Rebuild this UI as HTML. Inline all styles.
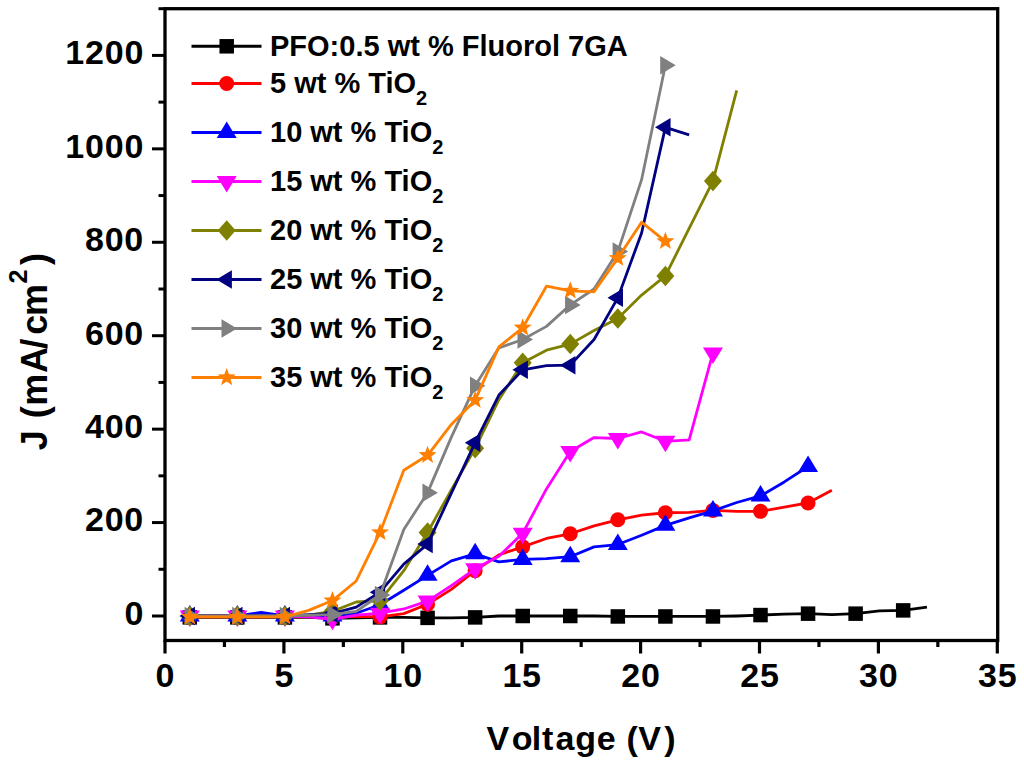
<!DOCTYPE html>
<html><head><meta charset="utf-8"><style>
html,body{margin:0;padding:0;background:#fff;}
svg{display:block;}
text{font-family:"Liberation Sans",sans-serif;font-weight:bold;fill:#000;}
</style></head><body>
<svg width="1024" height="762" viewBox="0 0 1024 762">
<rect width="1024" height="762" fill="#fff"/>
<polyline points="189.78,617.40 213.56,617.40 237.34,617.40 261.12,617.40 284.90,617.40 308.68,617.40 332.46,618.34 356.24,617.87 380.02,617.40 403.80,617.40 427.58,617.87 451.36,617.87 475.14,617.40 498.92,616.00 522.70,616.00 546.48,616.00 570.26,616.00 594.04,616.00 617.82,616.47 641.60,616.47 665.38,616.47 689.16,616.47 712.94,616.47 736.72,616.00 760.50,615.07 784.28,614.13 808.06,613.66 831.84,614.60 855.62,613.66 879.40,610.86 903.18,610.39 926.96,607.12" fill="none" stroke="#000000" stroke-width="2.8" stroke-linejoin="round" stroke-linecap="butt"/>
<rect x="182.53" y="610.15" width="14.5" height="14.5" fill="#000000"/>
<rect x="230.09" y="610.15" width="14.5" height="14.5" fill="#000000"/>
<rect x="277.65" y="610.15" width="14.5" height="14.5" fill="#000000"/>
<rect x="325.21" y="611.09" width="14.5" height="14.5" fill="#000000"/>
<rect x="372.77" y="610.15" width="14.5" height="14.5" fill="#000000"/>
<rect x="420.33" y="610.62" width="14.5" height="14.5" fill="#000000"/>
<rect x="467.89" y="610.15" width="14.5" height="14.5" fill="#000000"/>
<rect x="515.45" y="608.75" width="14.5" height="14.5" fill="#000000"/>
<rect x="563.01" y="608.75" width="14.5" height="14.5" fill="#000000"/>
<rect x="610.57" y="609.22" width="14.5" height="14.5" fill="#000000"/>
<rect x="658.13" y="609.22" width="14.5" height="14.5" fill="#000000"/>
<rect x="705.69" y="609.22" width="14.5" height="14.5" fill="#000000"/>
<rect x="753.25" y="607.82" width="14.5" height="14.5" fill="#000000"/>
<rect x="800.81" y="606.41" width="14.5" height="14.5" fill="#000000"/>
<rect x="848.37" y="606.41" width="14.5" height="14.5" fill="#000000"/>
<rect x="895.93" y="603.14" width="14.5" height="14.5" fill="#000000"/>
<polyline points="189.78,616.93 213.56,616.93 237.34,616.93 261.12,616.93 284.90,616.93 308.68,616.93 332.46,616.93 356.24,616.47 380.02,616.93 403.80,613.66 427.58,604.32 451.36,589.37 475.14,570.69 498.92,554.80 522.70,546.86 546.48,538.45 570.26,533.78 594.04,525.84 617.82,519.77 641.60,515.10 665.38,512.76 689.16,512.29 712.94,510.42 736.72,511.36 760.50,511.36 784.28,507.15 808.06,502.95 831.84,490.34" fill="none" stroke="#FF0000" stroke-width="2.8" stroke-linejoin="round" stroke-linecap="butt"/>
<circle cx="189.78" cy="616.93" r="7.5" fill="#FF0000"/>
<circle cx="237.34" cy="616.93" r="7.5" fill="#FF0000"/>
<circle cx="284.90" cy="616.93" r="7.5" fill="#FF0000"/>
<circle cx="332.46" cy="616.93" r="7.5" fill="#FF0000"/>
<circle cx="380.02" cy="616.93" r="7.5" fill="#FF0000"/>
<circle cx="427.58" cy="604.32" r="7.5" fill="#FF0000"/>
<circle cx="475.14" cy="570.69" r="7.5" fill="#FF0000"/>
<circle cx="522.70" cy="546.86" r="7.5" fill="#FF0000"/>
<circle cx="570.26" cy="533.78" r="7.5" fill="#FF0000"/>
<circle cx="617.82" cy="519.77" r="7.5" fill="#FF0000"/>
<circle cx="665.38" cy="512.76" r="7.5" fill="#FF0000"/>
<circle cx="712.94" cy="510.42" r="7.5" fill="#FF0000"/>
<circle cx="760.50" cy="511.36" r="7.5" fill="#FF0000"/>
<circle cx="808.06" cy="502.95" r="7.5" fill="#FF0000"/>
<polyline points="189.78,616.00 213.56,616.00 237.34,616.00 261.12,612.26 284.90,616.00 308.68,616.00 332.46,616.00 356.24,613.20 380.02,604.79 403.80,590.31 427.58,575.36 451.36,560.88 475.14,553.87 498.92,561.81 522.70,559.47 546.48,558.54 570.26,556.67 594.04,546.86 617.82,544.53 641.60,535.18 665.38,525.37 689.16,517.90 712.94,510.89 736.72,502.48 760.50,495.94 784.28,481.93 808.06,466.51" fill="none" stroke="#0000FF" stroke-width="2.8" stroke-linejoin="round" stroke-linecap="butt"/>
<polygon points="189.78,605.00 199.78,621.50 179.78,621.50" fill="#0000FF"/>
<polygon points="237.34,605.00 247.34,621.50 227.34,621.50" fill="#0000FF"/>
<polygon points="284.90,605.00 294.90,621.50 274.90,621.50" fill="#0000FF"/>
<polygon points="332.46,605.00 342.46,621.50 322.46,621.50" fill="#0000FF"/>
<polygon points="380.02,593.79 390.02,610.29 370.02,610.29" fill="#0000FF"/>
<polygon points="427.58,564.36 437.58,580.86 417.58,580.86" fill="#0000FF"/>
<polygon points="475.14,542.87 485.14,559.37 465.14,559.37" fill="#0000FF"/>
<polygon points="522.70,548.47 532.70,564.97 512.70,564.97" fill="#0000FF"/>
<polygon points="570.26,545.67 580.26,562.17 560.26,562.17" fill="#0000FF"/>
<polygon points="617.82,533.53 627.82,550.03 607.82,550.03" fill="#0000FF"/>
<polygon points="665.38,514.37 675.38,530.87 655.38,530.87" fill="#0000FF"/>
<polygon points="712.94,499.89 722.94,516.39 702.94,516.39" fill="#0000FF"/>
<polygon points="760.50,484.94 770.50,501.44 750.50,501.44" fill="#0000FF"/>
<polygon points="808.06,455.51 818.06,472.01 798.06,472.01" fill="#0000FF"/>
<polyline points="189.78,616.00 213.56,616.00 237.34,616.00 261.12,616.00 284.90,616.00 308.68,616.93 332.46,619.27 356.24,615.07 380.02,613.20 403.80,608.99 427.58,601.05 451.36,585.64 475.14,568.82 498.92,556.20 522.70,533.31 546.48,488.94 570.26,451.56 594.04,437.55 617.82,438.48 641.60,431.94 665.38,441.29 689.16,439.88 712.94,352.99" fill="none" stroke="#FF00FF" stroke-width="2.8" stroke-linejoin="round" stroke-linecap="butt"/>
<polygon points="189.78,627.00 199.78,610.50 179.78,610.50" fill="#FF00FF"/>
<polygon points="237.34,627.00 247.34,610.50 227.34,610.50" fill="#FF00FF"/>
<polygon points="284.90,627.00 294.90,610.50 274.90,610.50" fill="#FF00FF"/>
<polygon points="332.46,630.27 342.46,613.77 322.46,613.77" fill="#FF00FF"/>
<polygon points="380.02,624.20 390.02,607.70 370.02,607.70" fill="#FF00FF"/>
<polygon points="427.58,612.05 437.58,595.55 417.58,595.55" fill="#FF00FF"/>
<polygon points="475.14,579.82 485.14,563.32 465.14,563.32" fill="#FF00FF"/>
<polygon points="522.70,544.31 532.70,527.81 512.70,527.81" fill="#FF00FF"/>
<polygon points="570.26,462.56 580.26,446.06 560.26,446.06" fill="#FF00FF"/>
<polygon points="617.82,449.48 627.82,432.98 607.82,432.98" fill="#FF00FF"/>
<polygon points="665.38,452.29 675.38,435.79 655.38,435.79" fill="#FF00FF"/>
<polygon points="712.94,363.99 722.94,347.49 702.94,347.49" fill="#FF00FF"/>
<polyline points="189.78,616.00 213.56,616.00 237.34,616.00 261.12,616.00 284.90,616.00 308.68,615.07 332.46,611.33 356.24,601.99 380.02,600.58 403.80,570.69 427.58,532.38 451.36,489.87 475.14,448.29 498.92,399.71 522.70,362.80 546.48,350.19 570.26,344.12 594.04,330.57 617.82,318.43 641.60,295.07 665.38,275.91 689.16,228.27 712.94,181.08 736.72,90.46" fill="none" stroke="#808000" stroke-width="2.8" stroke-linejoin="round" stroke-linecap="butt"/>
<polygon points="189.78,605.75 198.78,616.00 189.78,626.25 180.78,616.00" fill="#808000"/>
<polygon points="237.34,605.75 246.34,616.00 237.34,626.25 228.34,616.00" fill="#808000"/>
<polygon points="284.90,605.75 293.90,616.00 284.90,626.25 275.90,616.00" fill="#808000"/>
<polygon points="332.46,601.08 341.46,611.33 332.46,621.58 323.46,611.33" fill="#808000"/>
<polygon points="380.02,590.33 389.02,600.58 380.02,610.83 371.02,600.58" fill="#808000"/>
<polygon points="427.58,522.13 436.58,532.38 427.58,542.63 418.58,532.38" fill="#808000"/>
<polygon points="475.14,438.04 484.14,448.29 475.14,458.54 466.14,448.29" fill="#808000"/>
<polygon points="522.70,352.55 531.70,362.80 522.70,373.05 513.70,362.80" fill="#808000"/>
<polygon points="570.26,333.87 579.26,344.12 570.26,354.37 561.26,344.12" fill="#808000"/>
<polygon points="617.82,308.18 626.82,318.43 617.82,328.68 608.82,318.43" fill="#808000"/>
<polygon points="665.38,265.66 674.38,275.91 665.38,286.16 656.38,275.91" fill="#808000"/>
<polygon points="712.94,170.83 721.94,181.08 712.94,191.33 703.94,181.08" fill="#808000"/>
<polyline points="189.78,616.00 213.56,616.00 237.34,616.00 261.12,616.00 284.90,616.00 308.68,614.60 332.46,613.66 356.24,607.12 380.02,592.18 403.80,564.15 427.58,544.06 451.36,493.14 475.14,442.69 498.92,395.04 522.70,369.81 546.48,365.61 570.26,365.14 594.04,339.45 617.82,297.87 641.60,232.94 665.38,127.36 689.16,134.84" fill="none" stroke="#000080" stroke-width="2.8" stroke-linejoin="round" stroke-linecap="butt"/>
<polygon points="179.45,616.00 194.95,606.75 194.95,625.25" fill="#000080"/>
<polygon points="227.01,616.00 242.51,606.75 242.51,625.25" fill="#000080"/>
<polygon points="274.57,616.00 290.07,606.75 290.07,625.25" fill="#000080"/>
<polygon points="322.13,613.66 337.63,604.41 337.63,622.91" fill="#000080"/>
<polygon points="369.69,592.18 385.19,582.93 385.19,601.43" fill="#000080"/>
<polygon points="417.25,544.06 432.75,534.81 432.75,553.31" fill="#000080"/>
<polygon points="464.81,442.69 480.31,433.44 480.31,451.94" fill="#000080"/>
<polygon points="512.37,369.81 527.87,360.56 527.87,379.06" fill="#000080"/>
<polygon points="559.93,365.14 575.43,355.89 575.43,374.39" fill="#000080"/>
<polygon points="607.49,297.87 622.99,288.62 622.99,307.12" fill="#000080"/>
<polygon points="655.05,127.36 670.55,118.11 670.55,136.61" fill="#000080"/>
<polyline points="189.78,616.00 213.56,616.00 237.34,616.00 261.12,616.00 284.90,616.00 308.68,615.07 332.46,614.60 356.24,611.33 380.02,594.98 403.80,529.58 427.58,492.67 451.36,437.08 475.14,385.70 498.92,347.86 522.70,339.45 546.48,326.37 570.26,304.88 594.04,289.00 617.82,251.62 641.60,179.68 665.38,65.23" fill="none" stroke="#808080" stroke-width="2.8" stroke-linejoin="round" stroke-linecap="butt"/>
<polygon points="200.11,616.00 184.61,606.75 184.61,625.25" fill="#808080"/>
<polygon points="247.67,616.00 232.17,606.75 232.17,625.25" fill="#808080"/>
<polygon points="295.23,616.00 279.73,606.75 279.73,625.25" fill="#808080"/>
<polygon points="342.79,614.60 327.29,605.35 327.29,623.85" fill="#808080"/>
<polygon points="390.35,594.98 374.85,585.73 374.85,604.23" fill="#808080"/>
<polygon points="437.91,492.67 422.41,483.42 422.41,501.92" fill="#808080"/>
<polygon points="485.47,385.70 469.97,376.45 469.97,394.95" fill="#808080"/>
<polygon points="533.03,339.45 517.53,330.20 517.53,348.70" fill="#808080"/>
<polygon points="580.59,304.88 565.09,295.63 565.09,314.13" fill="#808080"/>
<polygon points="628.15,251.62 612.65,242.37 612.65,260.87" fill="#808080"/>
<polygon points="675.71,65.23 660.21,55.98 660.21,74.48" fill="#808080"/>
<polyline points="189.78,616.93 213.56,616.93 237.34,616.93 261.12,616.93 284.90,616.93 308.68,610.39 332.46,600.58 356.24,580.96 380.02,532.38 403.80,470.25 427.58,455.30 451.36,424.47 475.14,400.18 498.92,346.92 522.70,327.77 546.48,286.19 570.26,290.86 594.04,291.80 617.82,258.16 641.60,222.19 665.38,241.35" fill="none" stroke="#FF8000" stroke-width="2.8" stroke-linejoin="round" stroke-linecap="butt"/>
<polygon points="189.78,607.43 192.13,613.70 198.82,614.00 193.58,618.17 195.36,624.62 189.78,620.93 184.20,624.62 185.98,618.17 180.74,614.00 187.43,613.70" fill="#FF8000"/>
<polygon points="237.34,607.43 239.69,613.70 246.38,614.00 241.14,618.17 242.92,624.62 237.34,620.93 231.76,624.62 233.54,618.17 228.30,614.00 234.99,613.70" fill="#FF8000"/>
<polygon points="284.90,607.43 287.25,613.70 293.94,614.00 288.70,618.17 290.48,624.62 284.90,620.93 279.32,624.62 281.10,618.17 275.86,614.00 282.55,613.70" fill="#FF8000"/>
<polygon points="332.46,591.08 334.81,597.35 341.50,597.65 336.26,601.82 338.04,608.27 332.46,604.58 326.88,608.27 328.66,601.82 323.42,597.65 330.11,597.35" fill="#FF8000"/>
<polygon points="380.02,522.88 382.37,529.14 389.06,529.44 383.82,533.62 385.60,540.07 380.02,536.38 374.44,540.07 376.22,533.62 370.98,529.44 377.67,529.14" fill="#FF8000"/>
<polygon points="427.58,445.80 429.93,452.06 436.62,452.36 431.38,456.54 433.16,462.99 427.58,459.30 422.00,462.99 423.78,456.54 418.54,452.36 425.23,452.06" fill="#FF8000"/>
<polygon points="475.14,390.68 477.49,396.94 484.18,397.24 478.94,401.41 480.72,407.86 475.14,404.18 469.56,407.86 471.34,401.41 466.10,397.24 472.79,396.94" fill="#FF8000"/>
<polygon points="522.70,318.27 525.05,324.53 531.74,324.83 526.50,329.00 528.28,335.45 522.70,331.77 517.12,335.45 518.90,329.00 513.66,324.83 520.35,324.53" fill="#FF8000"/>
<polygon points="570.26,281.36 572.61,287.63 579.30,287.93 574.06,292.10 575.84,298.55 570.26,294.86 564.68,298.55 566.46,292.10 561.22,287.93 567.91,287.63" fill="#FF8000"/>
<polygon points="617.82,248.66 620.17,254.93 626.86,255.23 621.62,259.40 623.40,265.85 617.82,262.16 612.24,265.85 614.02,259.40 608.78,255.23 615.47,254.93" fill="#FF8000"/>
<polygon points="665.38,231.85 667.73,238.11 674.42,238.41 669.18,242.58 670.96,249.03 665.38,245.35 659.80,249.03 661.58,242.58 656.34,238.41 663.03,238.11" fill="#FF8000"/>
<rect x="165" y="8.7" width="832.7" height="631.8" fill="none" stroke="#000" stroke-width="3.3"/>
<line x1="152" y1="616.00" x2="165" y2="616.00" stroke="#000" stroke-width="3"/>
<text x="144.10" y="624.90" font-size="34" letter-spacing="0.8" text-anchor="end">0</text>
<line x1="158.5" y1="569.28" x2="165" y2="569.28" stroke="#000" stroke-width="3"/>
<line x1="152" y1="522.57" x2="165" y2="522.57" stroke="#000" stroke-width="3"/>
<text x="144.10" y="531.47" font-size="34" letter-spacing="0.8" text-anchor="end">200</text>
<line x1="158.5" y1="475.86" x2="165" y2="475.86" stroke="#000" stroke-width="3"/>
<line x1="152" y1="429.14" x2="165" y2="429.14" stroke="#000" stroke-width="3"/>
<text x="144.10" y="438.04" font-size="34" letter-spacing="0.8" text-anchor="end">400</text>
<line x1="158.5" y1="382.42" x2="165" y2="382.42" stroke="#000" stroke-width="3"/>
<line x1="152" y1="335.71" x2="165" y2="335.71" stroke="#000" stroke-width="3"/>
<text x="144.10" y="344.61" font-size="34" letter-spacing="0.8" text-anchor="end">600</text>
<line x1="158.5" y1="289.00" x2="165" y2="289.00" stroke="#000" stroke-width="3"/>
<line x1="152" y1="242.28" x2="165" y2="242.28" stroke="#000" stroke-width="3"/>
<text x="144.10" y="251.18" font-size="34" letter-spacing="0.8" text-anchor="end">800</text>
<line x1="158.5" y1="195.56" x2="165" y2="195.56" stroke="#000" stroke-width="3"/>
<line x1="152" y1="148.85" x2="165" y2="148.85" stroke="#000" stroke-width="3"/>
<text x="144.10" y="157.75" font-size="34" letter-spacing="0.8" text-anchor="end">1000</text>
<line x1="158.5" y1="102.13" x2="165" y2="102.13" stroke="#000" stroke-width="3"/>
<line x1="152" y1="55.42" x2="165" y2="55.42" stroke="#000" stroke-width="3"/>
<text x="144.10" y="64.32" font-size="34" letter-spacing="0.8" text-anchor="end">1200</text>
<line x1="158.5" y1="8.71" x2="165" y2="8.71" stroke="#000" stroke-width="3"/>
<line x1="165.00" y1="640.5" x2="165.00" y2="653.5" stroke="#000" stroke-width="3.2"/>
<text x="165.40" y="686.6" font-size="34" letter-spacing="0.8" text-anchor="middle">0</text>
<line x1="224.45" y1="640.5" x2="224.45" y2="647" stroke="#000" stroke-width="3.2"/>
<line x1="283.90" y1="640.5" x2="283.90" y2="653.5" stroke="#000" stroke-width="3.2"/>
<text x="284.30" y="686.6" font-size="34" letter-spacing="0.8" text-anchor="middle">5</text>
<line x1="343.35" y1="640.5" x2="343.35" y2="647" stroke="#000" stroke-width="3.2"/>
<line x1="402.80" y1="640.5" x2="402.80" y2="653.5" stroke="#000" stroke-width="3.2"/>
<text x="403.20" y="686.6" font-size="34" letter-spacing="0.8" text-anchor="middle">10</text>
<line x1="462.25" y1="640.5" x2="462.25" y2="647" stroke="#000" stroke-width="3.2"/>
<line x1="521.70" y1="640.5" x2="521.70" y2="653.5" stroke="#000" stroke-width="3.2"/>
<text x="522.10" y="686.6" font-size="34" letter-spacing="0.8" text-anchor="middle">15</text>
<line x1="581.15" y1="640.5" x2="581.15" y2="647" stroke="#000" stroke-width="3.2"/>
<line x1="640.60" y1="640.5" x2="640.60" y2="653.5" stroke="#000" stroke-width="3.2"/>
<text x="641.00" y="686.6" font-size="34" letter-spacing="0.8" text-anchor="middle">20</text>
<line x1="700.05" y1="640.5" x2="700.05" y2="647" stroke="#000" stroke-width="3.2"/>
<line x1="759.50" y1="640.5" x2="759.50" y2="653.5" stroke="#000" stroke-width="3.2"/>
<text x="759.90" y="686.6" font-size="34" letter-spacing="0.8" text-anchor="middle">25</text>
<line x1="818.95" y1="640.5" x2="818.95" y2="647" stroke="#000" stroke-width="3.2"/>
<line x1="878.40" y1="640.5" x2="878.40" y2="653.5" stroke="#000" stroke-width="3.2"/>
<text x="878.80" y="686.6" font-size="34" letter-spacing="0.8" text-anchor="middle">30</text>
<line x1="937.85" y1="640.5" x2="937.85" y2="647" stroke="#000" stroke-width="3.2"/>
<line x1="997.30" y1="640.5" x2="997.30" y2="653.5" stroke="#000" stroke-width="3.2"/>
<text x="997.70" y="686.6" font-size="34" letter-spacing="0.8" text-anchor="middle">35</text>
<line x1="191.5" y1="46.3" x2="261.5" y2="46.3" stroke="#000000" stroke-width="3"/>
<rect x="219.45" y="39.05" width="14.5" height="14.5" fill="#000000"/>
<text x="270" y="55.9" font-size="29">PFO:0.5 wt % Fluorol 7GA</text>
<line x1="191.5" y1="83.5" x2="261.5" y2="83.5" stroke="#FF0000" stroke-width="3"/>
<circle cx="226.70" cy="83.50" r="7.5" fill="#FF0000"/>
<text x="270" y="93.1" font-size="29">5 wt % TiO<tspan font-size="20" dy="11.5">2</tspan></text>
<line x1="191.5" y1="132.5" x2="261.5" y2="132.5" stroke="#0000FF" stroke-width="3"/>
<polygon points="226.70,121.50 236.70,138.00 216.70,138.00" fill="#0000FF"/>
<text x="270" y="142.1" font-size="29">10 wt % TiO<tspan font-size="20" dy="11.5">2</tspan></text>
<line x1="191.5" y1="181.5" x2="261.5" y2="181.5" stroke="#FF00FF" stroke-width="3"/>
<polygon points="226.70,192.50 236.70,176.00 216.70,176.00" fill="#FF00FF"/>
<text x="270" y="191.1" font-size="29">15 wt % TiO<tspan font-size="20" dy="11.5">2</tspan></text>
<line x1="191.5" y1="230.5" x2="261.5" y2="230.5" stroke="#808000" stroke-width="3"/>
<polygon points="226.70,220.25 235.70,230.50 226.70,240.75 217.70,230.50" fill="#808000"/>
<text x="270" y="240.1" font-size="29">20 wt % TiO<tspan font-size="20" dy="11.5">2</tspan></text>
<line x1="191.5" y1="279.5" x2="261.5" y2="279.5" stroke="#000080" stroke-width="3"/>
<polygon points="216.37,279.50 231.87,270.25 231.87,288.75" fill="#000080"/>
<text x="270" y="289.1" font-size="29">25 wt % TiO<tspan font-size="20" dy="11.5">2</tspan></text>
<line x1="191.5" y1="328.5" x2="261.5" y2="328.5" stroke="#808080" stroke-width="3"/>
<polygon points="237.03,328.50 221.53,319.25 221.53,337.75" fill="#808080"/>
<text x="270" y="338.1" font-size="29">30 wt % TiO<tspan font-size="20" dy="11.5">2</tspan></text>
<line x1="191.5" y1="377.5" x2="261.5" y2="377.5" stroke="#FF8000" stroke-width="3"/>
<polygon points="226.70,368.00 229.05,374.26 235.74,374.56 230.50,378.74 232.28,385.19 226.70,381.50 221.12,385.19 222.90,378.74 217.66,374.56 224.35,374.26" fill="#FF8000"/>
<text x="270" y="387.1" font-size="29">35 wt % TiO<tspan font-size="20" dy="11.5">2</tspan></text>
<text x="486.57 511.87 531.83 542.08 555.60 575.31 596.87 626.61 638.17 664.27" y="749.5" font-size="34">Voltage(V)</text>
<g transform="translate(47.3,451) rotate(-90)"><text x="0.66 32.71 45.33 78.10 102.15 116.39 135.13" y="0" font-size="36">J(mA/cm</text><text x="167.43" y="-20.4" font-size="25">2</text><text x="185.96" y="0" font-size="36">)</text></g>
</svg>
</body></html>
